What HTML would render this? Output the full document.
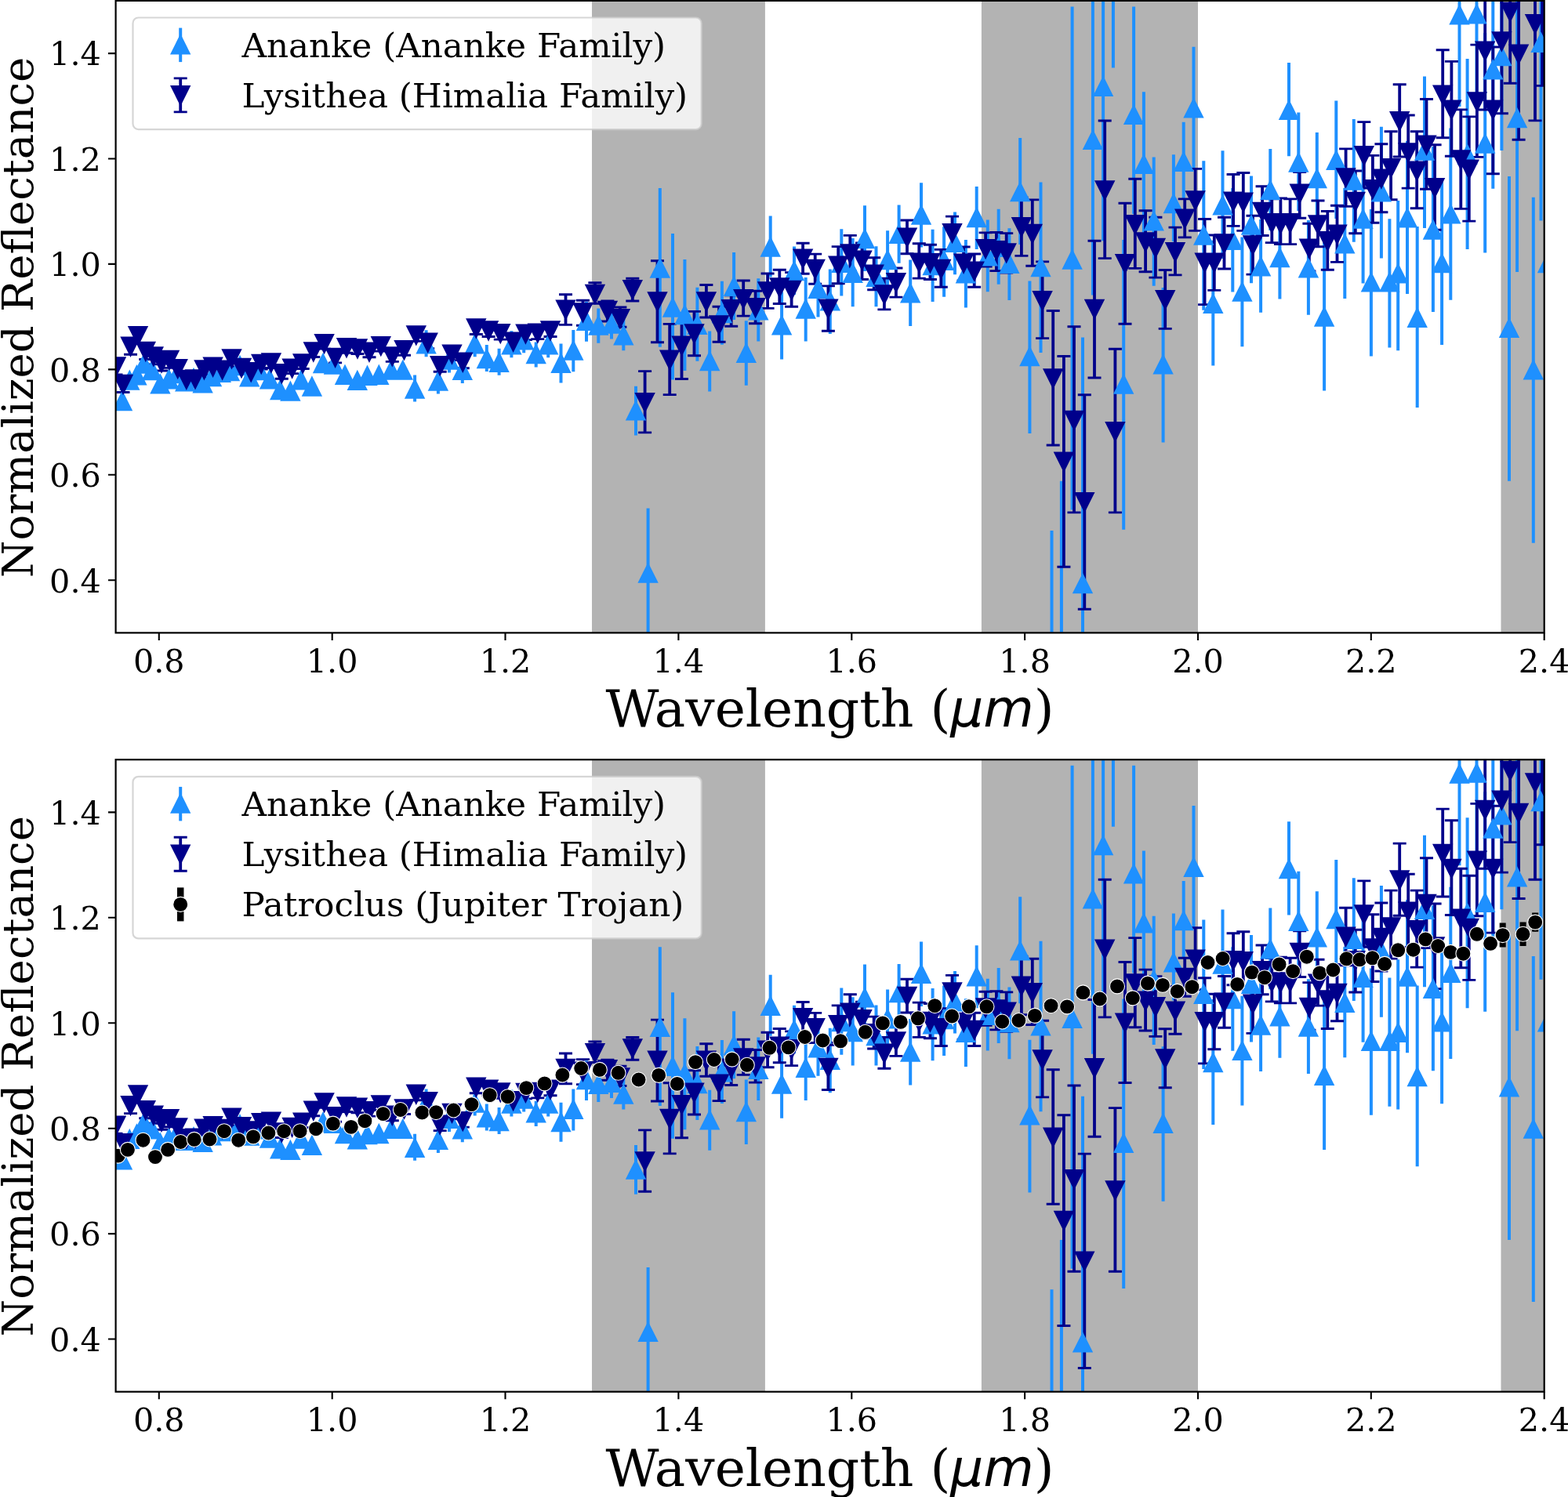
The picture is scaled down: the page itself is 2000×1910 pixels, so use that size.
<!DOCTYPE html>
<html><head><meta charset="utf-8"><title>Spectra</title>
<style>html,body{margin:0;padding:0;background:#fff;}body{width:2000px;height:1910px;overflow:hidden;}svg{display:block;}</style>
</head><body>
<svg width="2000" height="1910" viewBox="0 0 2000 1910" font-family="DejaVu Serif, Liberation Serif, serif" fill="#000">
<rect width="2000" height="1910" fill="#fff"/>
<clipPath id="c0"><rect x="147.6" y="0.9" width="1822.1" height="806.5"/></clipPath>
<rect x="755" y="0.9" width="220.9" height="806.5" fill="#b3b3b3"/>
<rect x="1251.9" y="0.9" width="276.1" height="806.5" fill="#b3b3b3"/>
<rect x="1914.5" y="0.9" width="55.2" height="806.5" fill="#b3b3b3"/>
<g clip-path="url(#c0)">
<path d="M156 503V519M165.3 476.6V492.6M174.4 470.2V486.2M183.6 455.5V471.5M194 464V480M204.4 481.4V497.4M215.4 475.3V491.3M226 468V484M236.2 478.4V494.4M247 474V490M258.6 480.4V496.4M270 472V488M281.8 466.7V482.7M293 465V481M306 458V474M318.2 472.3V488.3M331 464V480M344 475.3V491.3M357.2 489.1V505.1M370.4 490.6V506.6M384 476.3V492.3M397.9 484.5V500.5M412 455V471M425.9 456.5V472.5M440 469.7V485.7M455.8 476.9V492.9M468.5 470.7V486.7M483.3 469.7V485.7M499 463.6V479.6M513.8 463.6V479.6M529.1 478.5V512.5M543.6 421.3V455.3M558.9 468.6V502.6M573 441.6V475.6M589.8 454.9V488.9M605.7 421.3V455.3M620.8 440.1V474.1M636.6 444.7V478.7M652.4 422.3V456.3M668.2 416.2V450.2M683.7 436.5V468.6M699.2 422.3V456.3M715.5 438.5V488.5M731.3 421.1V474.2M748 385V435.8M763.3 393.6V437.7M780 392V432.6M795.3 407V447.3M811 492.7V555.4M826.6 648.6V812M841.8 240V442.8M858 298V484.4M873.4 330.9V472.9M889.4 366.7V460.8M905.2 422.5V499.4M920.9 358.7V439.8M936.1 322V408M951.8 409.3V491.8M967.3 355.2V435.6M982.7 275.5V353.5M997.1 372.6V458.5M1013 314.4V376M1027.7 353.9V435.6M1043.5 331V404.4M1058.8 343.5V425.9M1073.3 292.2V377.4M1087.7 304V391.2M1103 262.3V346M1117.5 314.2V391.2M1132.1 294.2V368M1146.6 261.6V335.7M1161.2 331.6V416.1M1175 233.2V315.6M1189.6 292.8V384.9M1204.1 289.3V378.7M1218 270.6V350.3M1231.9 305.9V392.6M1245.7 238V318M1259.8 280.5V372.3M1273.7 266.7V362.7M1287.4 291.2V382.9M1301.2 176V312M1313.4 358.4V553.1M1327.5 232.5V449.9M1341.5 676.9V1123M1353.9 613.8V1086M1367.6 8.5V650.5M1381 430.4V1058M1393.9 -20V376.5M1407.1 -90V307.2M1419.9 -206V86.4M1433.2 306.1V675.7M1446.1 8.5V273.1M1458.9 117.3V296.5M1471.7 200.5V364.8M1483.6 367V564.5M1496.9 197.3V308.3M1509.7 155.7V253.9M1522.5 59.7V215M1535.3 205.3V395.7M1547.3 306.7V466.6M1559.5 192.2V330M1572.3 240V372.4M1584.4 302.5V442.3M1596 224.6V361.3M1608.1 280V398.7M1620.3 190.1V294M1632.4 275V381.5M1644 80V199.2M1656.3 143.5V269M1668.9 281V401.8M1679.8 169V285M1689.1 308V498.6M1704.3 128.6V279M1715.3 240V381M1726.8 151.9V308.7M1738.6 196V361.4M1748.9 267.1V454.5M1761.9 161.7V329.5M1772.4 279.3V443.5M1783.2 256V447.2M1795 180V374.9M1807.7 289.1V520M1817 97.4V291M1827.9 187V397.9M1839.1 230V440M1850.3 163.4V382.8M1861.5 -100V136M1871.6 75V317.9M1883.5 -100V135M1894.2 42V322.4M1904.3 -65V240.7M1915.4 -50V192M1925 225V613.8M1935.1 -47V347M1955.8 251.8V692.8M1965.5 -170V281.5M1974 100V570" stroke="#1e90ff" stroke-width="4" fill="none"/>
<path d="M148 459V478M157 481.5V500.5M166.5 433.3V452.3M176 419.6V438.6M185.8 439.5V458.5M195.8 445.9V464.9M206 454V473M216 450.4V469.4M226.7 461.6V480.6M237.8 475.4V494.4M249 474.9V493.9M260.4 462.9V481.9M271.6 459.3V478.3M283.6 463.1V482.1M295.5 448.9V467.9M308 464V476M320.2 469.2V481.2M333.2 459V471M345.9 457.5V469.5M359.3 471.2V483.2M372.6 464.6V476.6M386.2 458.5V470.5M399.8 443.5V455.5M413.6 433.1V445.1M427.6 450.9V462.9M442 438.2V450.2M456 439.5V451.5M471 443.8V455.8M485.8 436.1V448.1M500.3 449.4V461.4M515.5 441.2V453.2M530.8 421.4V435.4M545.7 430.8V444.8M561.2 460.3V474.3M576.5 445.6V459.6M590.3 455.8V469.8M607.3 412.5V426.5M623.1 415.5V429.5M638.3 419.1V433.1M654.6 429.8V443.8M670.4 419.6V433.6M685.8 418.6V432.6M702 415.5V429.5M721.5 375.7V414.4M743.5 383.3V415.3M758.9 360.7V387.2M774.9 384V410M790.9 392V417.2M806.8 355.2V384M822.6 473.6V551.9M838.5 332.8V436.7M854.2 413.4V503.6M869.5 400V483.5M885.5 397.4V453.7M900.9 363.5V405M917.1 391.3V436.3M932.7 376.7V416.2M948.2 358V403.1M963.6 371.2V412.8M979.1 349V393.4M994.3 344.2V387.5M1009.6 347.6V391.3M1024.1 310.2V349.3M1039.7 324.1V362.2M1056.4 364.9V422.2M1069.2 314.6V361.8M1084.3 300.4V346M1099.5 310V356.5M1114.7 328.8V369.7M1127.9 355.1V394.9M1142.9 342V379.1M1157 281V323.7M1172.3 310.8V355.1M1186.4 312.2V356.5M1200.3 318.4V366.2M1214.5 276.1V320M1229.1 315V358M1242.7 324V366.2M1257.1 296.9V340M1270.9 296.5V345.6M1283.7 297.6V348M1302.9 252V326.4M1316.8 254.9V339.2M1329.6 333.9V431.6M1343.2 396.5V568M1356.9 454.5V723.2M1370 416.7V653.9M1383.3 503.8V777.2M1396 307.2V482M1409.2 154V329.6M1422.4 445.3V653.9M1435 259.2V413.2M1447.8 228.3V342.4M1461.1 268.8V346.7M1473.9 277.3V354.1M1486.2 344.5V419.4M1499 290.1V350.9M1511.2 253.9V302.9M1524.6 215.4V294.4M1536.6 279.5V388.6M1548.8 300V370.4M1561.5 277.2V343M1573.1 222.5V288.4M1585.8 220.5V294.4M1598 275.2V350.1M1610.1 237.7V300.5M1622.3 253.9V309.6M1633.4 252.9V311.6M1645.6 253.9V311.6M1657.7 219.5V278.2M1669.9 285.3V346M1681 256V314.8M1693.3 269.5V344.2M1705.5 262.2V334.4M1716.6 189.9V263.4M1728.8 218V297.7M1739.8 155.6V240M1750.9 198.4V284.2M1761.9 183.7V270.7M1774.1 167.8V254.8M1785.2 107.8V200M1796.2 147V240.1M1807.2 167.8V265.8M1819.5 126.5V241.3M1830.1 184.7V293.3M1840.2 63.8V175.7M1851.4 78.4V199.2M1863.3 139.9V266.4M1873.8 148.9V282.1M1883.9 57.1V200.4M1894.2 -10V140M1904.3 60V221.8M1915.4 -30V144.8M1926.2 -70V106.3M1937.1 -30V178.2M1958 -80V153.9M1967.1 -140V109.4" stroke="#00008b" stroke-width="3.8" fill="none"/>
<path d="M139.5 459H156.5M139.5 478H156.5M148.5 481.5H165.5M148.5 500.5H165.5M158 433.3H175M158 452.3H175M167.5 419.6H184.5M167.5 438.6H184.5M177.3 439.5H194.3M177.3 458.5H194.3M187.3 445.9H204.3M187.3 464.9H204.3M197.5 454H214.5M197.5 473H214.5M207.5 450.4H224.5M207.5 469.4H224.5M218.2 461.6H235.2M218.2 480.6H235.2M229.3 475.4H246.3M229.3 494.4H246.3M240.5 474.9H257.5M240.5 493.9H257.5M251.9 462.9H268.9M251.9 481.9H268.9M263.1 459.3H280.1M263.1 478.3H280.1M275.1 463.1H292.1M275.1 482.1H292.1M287 448.9H304M287 467.9H304M299.5 464H316.5M299.5 476H316.5M311.7 469.2H328.7M311.7 481.2H328.7M324.7 459H341.7M324.7 471H341.7M337.4 457.5H354.4M337.4 469.5H354.4M350.8 471.2H367.8M350.8 483.2H367.8M364.1 464.6H381.1M364.1 476.6H381.1M377.7 458.5H394.7M377.7 470.5H394.7M391.3 443.5H408.3M391.3 455.5H408.3M405.1 433.1H422.1M405.1 445.1H422.1M419.1 450.9H436.1M419.1 462.9H436.1M433.5 438.2H450.5M433.5 450.2H450.5M447.5 439.5H464.5M447.5 451.5H464.5M462.5 443.8H479.5M462.5 455.8H479.5M477.3 436.1H494.3M477.3 448.1H494.3M491.8 449.4H508.8M491.8 461.4H508.8M507 441.2H524M507 453.2H524M522.3 421.4H539.3M522.3 435.4H539.3M537.2 430.8H554.2M537.2 444.8H554.2M552.7 460.3H569.7M552.7 474.3H569.7M568 445.6H585M568 459.6H585M581.8 455.8H598.8M581.8 469.8H598.8M598.8 412.5H615.8M598.8 426.5H615.8M614.6 415.5H631.6M614.6 429.5H631.6M629.8 419.1H646.8M629.8 433.1H646.8M646.1 429.8H663.1M646.1 443.8H663.1M661.9 419.6H678.9M661.9 433.6H678.9M677.3 418.6H694.3M677.3 432.6H694.3M693.5 415.5H710.5M693.5 429.5H710.5M713 375.7H730M713 414.4H730M735 383.3H752M735 415.3H752M750.4 360.7H767.4M750.4 387.2H767.4M766.4 384H783.4M766.4 410H783.4M782.4 392H799.4M782.4 417.2H799.4M798.3 355.2H815.3M798.3 384H815.3M814.1 473.6H831.1M814.1 551.9H831.1M830 332.8H847M830 436.7H847M845.7 413.4H862.7M845.7 503.6H862.7M861 400H878M861 483.5H878M877 397.4H894M877 453.7H894M892.4 363.5H909.4M892.4 405H909.4M908.6 391.3H925.6M908.6 436.3H925.6M924.2 376.7H941.2M924.2 416.2H941.2M939.7 358H956.7M939.7 403.1H956.7M955.1 371.2H972.1M955.1 412.8H972.1M970.6 349H987.6M970.6 393.4H987.6M985.8 344.2H1002.8M985.8 387.5H1002.8M1001.1 347.6H1018.1M1001.1 391.3H1018.1M1015.6 310.2H1032.6M1015.6 349.3H1032.6M1031.2 324.1H1048.2M1031.2 362.2H1048.2M1047.9 364.9H1064.9M1047.9 422.2H1064.9M1060.7 314.6H1077.7M1060.7 361.8H1077.7M1075.8 300.4H1092.8M1075.8 346H1092.8M1091 310H1108M1091 356.5H1108M1106.2 328.8H1123.2M1106.2 369.7H1123.2M1119.4 355.1H1136.4M1119.4 394.9H1136.4M1134.4 342H1151.4M1134.4 379.1H1151.4M1148.5 281H1165.5M1148.5 323.7H1165.5M1163.8 310.8H1180.8M1163.8 355.1H1180.8M1177.9 312.2H1194.9M1177.9 356.5H1194.9M1191.8 318.4H1208.8M1191.8 366.2H1208.8M1206 276.1H1223M1206 320H1223M1220.6 315H1237.6M1220.6 358H1237.6M1234.2 324H1251.2M1234.2 366.2H1251.2M1248.6 296.9H1265.6M1248.6 340H1265.6M1262.4 296.5H1279.4M1262.4 345.6H1279.4M1275.2 297.6H1292.2M1275.2 348H1292.2M1294.4 252H1311.4M1294.4 326.4H1311.4M1308.3 254.9H1325.3M1308.3 339.2H1325.3M1321.1 333.9H1338.1M1321.1 431.6H1338.1M1334.7 396.5H1351.7M1334.7 568H1351.7M1348.4 454.5H1365.4M1348.4 723.2H1365.4M1361.5 416.7H1378.5M1361.5 653.9H1378.5M1374.8 503.8H1391.8M1374.8 777.2H1391.8M1387.5 307.2H1404.5M1387.5 482H1404.5M1400.7 154H1417.7M1400.7 329.6H1417.7M1413.9 445.3H1430.9M1413.9 653.9H1430.9M1426.5 259.2H1443.5M1426.5 413.2H1443.5M1439.3 228.3H1456.3M1439.3 342.4H1456.3M1452.6 268.8H1469.6M1452.6 346.7H1469.6M1465.4 277.3H1482.4M1465.4 354.1H1482.4M1477.7 344.5H1494.7M1477.7 419.4H1494.7M1490.5 290.1H1507.5M1490.5 350.9H1507.5M1502.7 253.9H1519.7M1502.7 302.9H1519.7M1516.1 215.4H1533.1M1516.1 294.4H1533.1M1528.1 279.5H1545.1M1528.1 388.6H1545.1M1540.3 300H1557.3M1540.3 370.4H1557.3M1553 277.2H1570M1553 343H1570M1564.6 222.5H1581.6M1564.6 288.4H1581.6M1577.3 220.5H1594.3M1577.3 294.4H1594.3M1589.5 275.2H1606.5M1589.5 350.1H1606.5M1601.6 237.7H1618.6M1601.6 300.5H1618.6M1613.8 253.9H1630.8M1613.8 309.6H1630.8M1624.9 252.9H1641.9M1624.9 311.6H1641.9M1637.1 253.9H1654.1M1637.1 311.6H1654.1M1649.2 219.5H1666.2M1649.2 278.2H1666.2M1661.4 285.3H1678.4M1661.4 346H1678.4M1672.5 256H1689.5M1672.5 314.8H1689.5M1684.8 269.5H1701.8M1684.8 344.2H1701.8M1697 262.2H1714M1697 334.4H1714M1708.1 189.9H1725.1M1708.1 263.4H1725.1M1720.3 218H1737.3M1720.3 297.7H1737.3M1731.3 155.6H1748.3M1731.3 240H1748.3M1742.4 198.4H1759.4M1742.4 284.2H1759.4M1753.4 183.7H1770.4M1753.4 270.7H1770.4M1765.6 167.8H1782.6M1765.6 254.8H1782.6M1776.7 107.8H1793.7M1776.7 200H1793.7M1787.7 147H1804.7M1787.7 240.1H1804.7M1798.7 167.8H1815.7M1798.7 265.8H1815.7M1811 126.5H1828M1811 241.3H1828M1821.6 184.7H1838.6M1821.6 293.3H1838.6M1831.7 63.8H1848.7M1831.7 175.7H1848.7M1842.9 78.4H1859.9M1842.9 199.2H1859.9M1854.8 139.9H1871.8M1854.8 266.4H1871.8M1865.3 148.9H1882.3M1865.3 282.1H1882.3M1875.4 57.1H1892.4M1875.4 200.4H1892.4M1885.7 -10H1902.7M1885.7 140H1902.7M1895.8 60H1912.8M1895.8 221.8H1912.8M1906.9 -30H1923.9M1906.9 144.8H1923.9M1917.7 -70H1934.7M1917.7 106.3H1934.7M1928.6 -30H1945.6M1928.6 178.2H1945.6M1949.5 -80H1966.5M1949.5 153.9H1966.5M1958.6 -140H1975.6M1958.6 109.4H1975.6" stroke="#00008b" stroke-width="2.9" fill="none"/>
<path d="M156 497.8L169.2 524.2L142.8 524.2ZM165.3 471.4L178.5 497.8L152.1 497.8ZM174.4 465L187.6 491.4L161.2 491.4ZM183.6 450.3L196.8 476.7L170.4 476.7ZM194 458.8L207.2 485.2L180.8 485.2ZM204.4 476.2L217.6 502.6L191.2 502.6ZM215.4 470.1L228.6 496.5L202.2 496.5ZM226 462.8L239.2 489.2L212.8 489.2ZM236.2 473.2L249.4 499.6L223 499.6ZM247 468.8L260.2 495.2L233.8 495.2ZM258.6 475.2L271.8 501.6L245.4 501.6ZM270 466.8L283.2 493.2L256.8 493.2ZM281.8 461.5L295 487.9L268.6 487.9ZM293 459.8L306.2 486.2L279.8 486.2ZM306 452.8L319.2 479.2L292.8 479.2ZM318.2 467.1L331.4 493.5L305 493.5ZM331 458.8L344.2 485.2L317.8 485.2ZM344 470.1L357.2 496.5L330.8 496.5ZM357.2 483.9L370.4 510.3L344 510.3ZM370.4 485.4L383.6 511.8L357.2 511.8ZM384 471.1L397.2 497.5L370.8 497.5ZM397.9 479.3L411.1 505.7L384.7 505.7ZM412 449.8L425.2 476.2L398.8 476.2ZM425.9 451.3L439.1 477.7L412.7 477.7ZM440 464.5L453.2 490.9L426.8 490.9ZM455.8 471.7L469 498.1L442.6 498.1ZM468.5 465.5L481.7 491.9L455.3 491.9ZM483.3 464.5L496.5 490.9L470.1 490.9ZM499 458.4L512.2 484.8L485.8 484.8ZM513.8 458.4L527 484.8L500.6 484.8ZM529.1 482.3L542.3 508.7L515.9 508.7ZM543.6 425.1L556.8 451.5L530.4 451.5ZM558.9 472.4L572.1 498.8L545.7 498.8ZM573 445.4L586.2 471.8L559.8 471.8ZM589.8 458.7L603 485.1L576.6 485.1ZM605.7 425.1L618.9 451.5L592.5 451.5ZM620.8 443.9L634 470.3L607.6 470.3ZM636.6 448.5L649.8 474.9L623.4 474.9ZM652.4 426.1L665.6 452.5L639.2 452.5ZM668.2 420L681.4 446.4L655 446.4ZM683.7 437.8L696.9 464.2L670.5 464.2ZM699.2 426.1L712.4 452.5L686 452.5ZM715.5 449.5L728.7 475.9L702.3 475.9ZM731.3 433.3L744.5 459.7L718.1 459.7ZM748 395.5L761.2 421.9L734.8 421.9ZM763.3 401.3L776.5 427.7L750.1 427.7ZM780 399.4L793.2 425.8L766.8 425.8ZM795.3 414.1L808.5 440.5L782.1 440.5ZM811 510.1L824.2 536.5L797.8 536.5ZM826.6 717.4L839.8 743.8L813.4 743.8ZM841.8 328.3L855 354.7L828.6 354.7ZM858 378.3L871.2 404.7L844.8 404.7ZM873.4 387.8L886.6 414.2L860.2 414.2ZM889.4 400.5L902.6 426.9L876.2 426.9ZM905.2 446.8L918.4 473.2L892 473.2ZM920.9 385.8L934.1 412.2L907.7 412.2ZM936.1 351.6L949.3 378L922.9 378ZM951.8 436.5L965 462.9L938.6 462.9ZM967.3 382.2L980.5 408.6L954.1 408.6ZM982.7 301.3L995.9 327.7L969.5 327.7ZM997.1 401.1L1010.3 427.5L983.9 427.5ZM1013 331.8L1026.2 358.2L999.8 358.2ZM1027.7 380.3L1040.9 406.7L1014.5 406.7ZM1043.5 354.7L1056.7 381.1L1030.3 381.1ZM1058.8 370.2L1072 396.6L1045.6 396.6ZM1073.3 321.6L1086.5 348L1060.1 348ZM1087.7 334.5L1100.9 360.9L1074.5 360.9ZM1103 290.8L1116.2 317.2L1089.8 317.2ZM1117.5 339.5L1130.7 365.9L1104.3 365.9ZM1132.1 317.8L1145.3 344.2L1118.9 344.2ZM1146.6 284.6L1159.8 311L1133.4 311ZM1161.2 360.1L1174.4 386.5L1148 386.5ZM1175 260.3L1188.2 286.7L1161.8 286.7ZM1189.6 324.8L1202.8 351.2L1176.4 351.2ZM1204.1 318.5L1217.3 344.9L1190.9 344.9ZM1218 295.7L1231.2 322.1L1204.8 322.1ZM1231.9 335.2L1245.1 361.6L1218.7 361.6ZM1245.7 263.8L1258.9 290.2L1232.5 290.2ZM1259.8 313.2L1273 339.6L1246.6 339.6ZM1273.7 301.5L1286.9 327.9L1260.5 327.9ZM1287.4 322.6L1300.6 349L1274.2 349ZM1301.2 230.9L1314.4 257.3L1288 257.3ZM1313.4 440.9L1326.6 467.3L1300.2 467.3ZM1327.5 326.9L1340.7 353.3L1314.3 353.3ZM1341.5 886.8L1354.7 913.2L1328.3 913.2ZM1353.9 836.8L1367.1 863.2L1340.7 863.2ZM1367.6 317.3L1380.8 343.7L1354.4 343.7ZM1381 730.9L1394.2 757.3L1367.8 757.3ZM1393.9 164.7L1407.1 191.1L1380.7 191.1ZM1407.1 96.5L1420.3 122.9L1393.9 122.9ZM1419.9 -73.2L1433.1 -46.8L1406.7 -46.8ZM1433.2 476.4L1446.4 502.8L1420 502.8ZM1446.1 132.7L1459.3 159.1L1432.9 159.1ZM1458.9 195.7L1472.1 222.1L1445.7 222.1ZM1471.7 268.2L1484.9 294.6L1458.5 294.6ZM1483.6 451.2L1496.8 477.6L1470.4 477.6ZM1496.9 245.8L1510.1 272.2L1483.7 272.2ZM1509.7 192.5L1522.9 218.9L1496.5 218.9ZM1522.5 124.2L1535.7 150.6L1509.3 150.6ZM1535.3 286.3L1548.5 312.7L1522.1 312.7ZM1547.3 373.5L1560.5 399.9L1534.1 399.9ZM1559.5 248L1572.7 274.4L1546.3 274.4ZM1572.3 292.5L1585.5 318.9L1559.1 318.9ZM1584.4 358.4L1597.6 384.8L1571.2 384.8ZM1596 273.3L1609.2 299.7L1582.8 299.7ZM1608.1 326L1621.3 352.4L1594.9 352.4ZM1620.3 228.7L1633.5 255.1L1607.1 255.1ZM1632.4 314.8L1645.6 341.2L1619.2 341.2ZM1644 126.5L1657.2 152.9L1630.8 152.9ZM1656.3 193.3L1669.5 219.7L1643.1 219.7ZM1668.9 328L1682.1 354.4L1655.7 354.4ZM1679.8 213.9L1693 240.3L1666.6 240.3ZM1689.1 390.3L1702.3 416.7L1675.9 416.7ZM1704.3 190.6L1717.5 217L1691.1 217ZM1715.3 297.2L1728.5 323.6L1702.1 323.6ZM1726.8 216.4L1740 242.8L1713.6 242.8ZM1738.6 265.4L1751.8 291.8L1725.4 291.8ZM1748.9 346.2L1762.1 372.6L1735.7 372.6ZM1761.9 231.1L1775.1 257.5L1748.7 257.5ZM1772.4 346.2L1785.6 372.6L1759.2 372.6ZM1783.2 335.2L1796.4 361.6L1770 361.6ZM1795 264.1L1808.2 290.5L1781.8 290.5ZM1807.7 391.6L1820.9 418L1794.5 418ZM1817 178.4L1830.2 204.8L1803.8 204.8ZM1827.9 279.4L1841.1 305.8L1814.7 305.8ZM1839.1 321.9L1852.3 348.3L1825.9 348.3ZM1850.3 259.2L1863.5 285.6L1837.1 285.6ZM1861.5 5.1L1874.7 31.5L1848.3 31.5ZM1871.6 183.3L1884.8 209.7L1858.4 209.7ZM1883.5 4L1896.7 30.4L1870.3 30.4ZM1894.2 169.3L1907.4 195.7L1881 195.7ZM1904.3 75.1L1917.5 101.5L1891.1 101.5ZM1915.4 57.9L1928.6 84.3L1902.2 84.3ZM1925 404.7L1938.2 431.1L1911.8 431.1ZM1935.1 136.9L1948.3 163.3L1921.9 163.3ZM1955.8 458.1L1969 484.5L1942.6 484.5ZM1965.5 40.6L1978.7 67L1952.3 67ZM1974 321.8L1987.2 348.2L1960.8 348.2Z" fill="#1e90ff"/>
<path d="M134.8 455.3L161.2 455.3L148 481.7ZM143.8 477.8L170.2 477.8L157 504.2ZM153.3 429.6L179.7 429.6L166.5 456ZM162.8 415.9L189.2 415.9L176 442.3ZM172.6 435.8L199 435.8L185.8 462.2ZM182.6 442.2L209 442.2L195.8 468.6ZM192.8 450.3L219.2 450.3L206 476.7ZM202.8 446.7L229.2 446.7L216 473.1ZM213.5 457.9L239.9 457.9L226.7 484.3ZM224.6 471.7L251 471.7L237.8 498.1ZM235.8 471.2L262.2 471.2L249 497.6ZM247.2 459.2L273.6 459.2L260.4 485.6ZM258.4 455.6L284.8 455.6L271.6 482ZM270.4 459.4L296.8 459.4L283.6 485.8ZM282.3 445.2L308.7 445.2L295.5 471.6ZM294.8 456.8L321.2 456.8L308 483.2ZM307 462L333.4 462L320.2 488.4ZM320 451.8L346.4 451.8L333.2 478.2ZM332.7 450.3L359.1 450.3L345.9 476.7ZM346.1 464L372.5 464L359.3 490.4ZM359.4 457.4L385.8 457.4L372.6 483.8ZM373 451.3L399.4 451.3L386.2 477.7ZM386.6 436.3L413 436.3L399.8 462.7ZM400.4 425.9L426.8 425.9L413.6 452.3ZM414.4 443.7L440.8 443.7L427.6 470.1ZM428.8 431L455.2 431L442 457.4ZM442.8 432.3L469.2 432.3L456 458.7ZM457.8 436.6L484.2 436.6L471 463ZM472.6 428.9L499 428.9L485.8 455.3ZM487.1 442.2L513.5 442.2L500.3 468.6ZM502.3 434L528.7 434L515.5 460.4ZM517.6 415.2L544 415.2L530.8 441.6ZM532.5 424.6L558.9 424.6L545.7 451ZM548 454.1L574.4 454.1L561.2 480.5ZM563.3 439.4L589.7 439.4L576.5 465.8ZM577.1 449.6L603.5 449.6L590.3 476ZM594.1 406.3L620.5 406.3L607.3 432.7ZM609.9 409.3L636.3 409.3L623.1 435.7ZM625.1 412.9L651.5 412.9L638.3 439.3ZM641.4 423.6L667.8 423.6L654.6 450ZM657.2 413.4L683.6 413.4L670.4 439.8ZM672.6 412.4L699 412.4L685.8 438.8ZM688.8 409.3L715.2 409.3L702 435.7ZM708.3 382.5L734.7 382.5L721.5 408.9ZM730.3 386.3L756.7 386.3L743.5 412.7ZM745.7 362.7L772.1 362.7L758.9 389.1ZM761.7 383.8L788.1 383.8L774.9 410.2ZM777.7 394L804.1 394L790.9 420.4ZM793.6 356.9L820 356.9L806.8 383.3ZM809.4 500.9L835.8 500.9L822.6 527.3ZM825.3 372.3L851.7 372.3L838.5 398.7ZM841 446.5L867.4 446.5L854.2 472.9ZM856.3 428.6L882.7 428.6L869.5 455ZM872.3 413.2L898.7 413.2L885.5 439.6ZM887.7 372.3L914.1 372.3L900.9 398.7ZM903.9 402.2L930.3 402.2L917.1 428.6ZM919.5 382.1L945.9 382.1L932.7 408.5ZM935 368.9L961.4 368.9L948.2 395.3ZM950.4 380L976.8 380L963.6 406.4ZM965.9 359.2L992.3 359.2L979.1 385.6ZM981.1 354.3L1007.5 354.3L994.3 380.7ZM996.4 357.8L1022.8 357.8L1009.6 384.2ZM1010.9 317.6L1037.3 317.6L1024.1 344ZM1026.5 330.8L1052.9 330.8L1039.7 357.2ZM1043.2 381.4L1069.6 381.4L1056.4 407.8ZM1056 326.6L1082.4 326.6L1069.2 353ZM1071.1 311.3L1097.5 311.3L1084.3 337.7ZM1086.3 319.6L1112.7 319.6L1099.5 346ZM1101.5 337.6L1127.9 337.6L1114.7 364ZM1114.7 363.3L1141.1 363.3L1127.9 389.7ZM1129.7 348L1156.1 348L1142.9 374.4ZM1143.8 290.5L1170.2 290.5L1157 316.9ZM1159.1 322.4L1185.5 322.4L1172.3 348.8ZM1173.2 323.1L1199.6 323.1L1186.4 349.5ZM1187.1 330.7L1213.5 330.7L1200.3 357.1ZM1201.3 284.9L1227.7 284.9L1214.5 311.3ZM1215.9 323.5L1242.3 323.5L1229.1 349.9ZM1229.5 333.4L1255.9 333.4L1242.7 359.8ZM1243.9 304.9L1270.3 304.9L1257.1 331.3ZM1257.7 307L1284.1 307L1270.9 333.4ZM1270.5 310.2L1296.9 310.2L1283.7 336.6ZM1289.7 277.1L1316.1 277.1L1302.9 303.5ZM1303.6 285.7L1330 285.7L1316.8 312.1ZM1316.4 371L1342.8 371L1329.6 397.4ZM1330 470.3L1356.4 470.3L1343.2 496.7ZM1343.7 576.5L1370.1 576.5L1356.9 602.9ZM1356.8 523.8L1383.2 523.8L1370 550.2ZM1370.1 628.1L1396.5 628.1L1383.3 654.5ZM1382.8 381.7L1409.2 381.7L1396 408.1ZM1396 230.2L1422.4 230.2L1409.2 256.6ZM1409.2 538L1435.6 538L1422.4 564.4ZM1421.8 324.1L1448.2 324.1L1435 350.5ZM1434.6 273.9L1461 273.9L1447.8 300.3ZM1447.9 296.3L1474.3 296.3L1461.1 322.7ZM1460.7 303.8L1487.1 303.8L1473.9 330.2ZM1473 369.9L1499.4 369.9L1486.2 396.3ZM1485.8 309.1L1512.2 309.1L1499 335.5ZM1498 266.5L1524.4 266.5L1511.2 292.9ZM1511.4 243.3L1537.8 243.3L1524.6 269.7ZM1523.4 322.6L1549.8 322.6L1536.6 349ZM1535.6 322.6L1562 322.6L1548.8 349ZM1548.3 298.3L1574.7 298.3L1561.5 324.7ZM1559.9 244.6L1586.3 244.6L1573.1 271ZM1572.6 245.6L1599 245.6L1585.8 272ZM1584.8 300.3L1611.2 300.3L1598 326.7ZM1596.9 257.8L1623.3 257.8L1610.1 284.2ZM1609.1 272L1635.5 272L1622.3 298.4ZM1620.2 273L1646.6 273L1633.4 299.4ZM1632.4 272L1658.8 272L1645.6 298.4ZM1644.5 234.5L1670.9 234.5L1657.7 260.9ZM1656.7 304.4L1683.1 304.4L1669.9 330.8ZM1667.8 274.2L1694.2 274.2L1681 300.6ZM1680.1 295L1706.5 295L1693.3 321.4ZM1692.3 286.5L1718.7 286.5L1705.5 312.9ZM1703.4 214.2L1729.8 214.2L1716.6 240.6ZM1715.6 244.8L1742 244.8L1728.8 271.2ZM1726.6 186L1753 186L1739.8 212.4ZM1737.7 228.9L1764.1 228.9L1750.9 255.3ZM1748.7 215.4L1775.1 215.4L1761.9 241.8ZM1760.9 201.9L1787.3 201.9L1774.1 228.3ZM1772 141.9L1798.4 141.9L1785.2 168.3ZM1783 182.3L1809.4 182.3L1796.2 208.7ZM1794 205.6L1820.4 205.6L1807.2 232ZM1806.3 172.5L1832.7 172.5L1819.5 198.9ZM1816.9 227L1843.3 227L1830.1 253.4ZM1827 108.4L1853.4 108.4L1840.2 134.8ZM1838.2 127.4L1864.6 127.4L1851.4 153.8ZM1850.1 191.2L1876.5 191.2L1863.3 217.6ZM1860.6 203.5L1887 203.5L1873.8 229.9ZM1870.7 117.3L1897.1 117.3L1883.9 143.7ZM1881 52.5L1907.4 52.5L1894.2 78.9ZM1891.1 127.4L1917.5 127.4L1904.3 153.8ZM1902.2 40.3L1928.6 40.3L1915.4 66.7ZM1913 2.8L1939.4 2.8L1926.2 29.2ZM1923.9 56.5L1950.3 56.5L1937.1 82.9ZM1944.8 18L1971.2 18L1958 44.4ZM1953.9 -28.2L1980.3 -28.2L1967.1 -1.8Z" fill="#00008b"/>
</g>
<rect x="147.6" y="0.9" width="1822.1" height="806.5" fill="none" stroke="#000" stroke-width="2.2"/>
<path d="M202.8 807.4V817M423.7 807.4V817M644.5 807.4V817M865.4 807.4V817M1086.3 807.4V817M1307.1 807.4V817M1528 807.4V817M1748.8 807.4V817M1969.7 807.4V817M147.6 740.2H138M147.6 605.8H138M147.6 471.4H138M147.6 336.9H138M147.6 202.5H138M147.6 68.1H138" stroke="#000" stroke-width="2.1" fill="none"/>
<g font-size="41.3"><text x="202.8" y="858" text-anchor="middle">0.8</text><text x="423.7" y="858" text-anchor="middle">1.0</text><text x="644.5" y="858" text-anchor="middle">1.2</text><text x="865.4" y="858" text-anchor="middle">1.4</text><text x="1086.3" y="858" text-anchor="middle">1.6</text><text x="1307.1" y="858" text-anchor="middle">1.8</text><text x="1528" y="858" text-anchor="middle">2.0</text><text x="1748.8" y="858" text-anchor="middle">2.2</text><text x="1969.7" y="858" text-anchor="middle">2.4</text><text x="128.8" y="755.5" text-anchor="end">0.4</text><text x="128.8" y="621.1" text-anchor="end">0.6</text><text x="128.8" y="486.7" text-anchor="end">0.8</text><text x="128.8" y="352.2" text-anchor="end">1.0</text><text x="128.8" y="217.8" text-anchor="end">1.2</text><text x="128.8" y="83.4" text-anchor="end">1.4</text></g>
<text x="772.5" y="927.2" font-size="66.2">Wavelength (<tspan font-family="DejaVu Sans" font-style="oblique">μm</tspan>)</text>
<text transform="translate(41.8 405) rotate(-90)" text-anchor="middle" font-size="54.6">Normalized Reflectance</text>
<rect x="169.5" y="22.5" width="725.2" height="142.6" rx="7" fill="#fff" fill-opacity="0.8" stroke="#ccc" stroke-opacity="0.8" stroke-width="2.2"/>
<path d="M230.2 35.6V79.1" stroke="#1e90ff" stroke-width="4"/>
<path d="M230.2 43L243.4 69.4L217 69.4Z" fill="#1e90ff"/>
<path d="M230.2 99.9V142.9" stroke="#00008b" stroke-width="3.8"/>
<path d="M221.7 99.9H238.7M221.7 142.9H238.7" stroke="#00008b" stroke-width="2.9"/>
<path d="M217 109.1L243.4 109.1L230.2 135.5Z" fill="#00008b"/>
<text x="308.5" y="73.1" font-size="43.6">Ananke (Ananke Family)</text>
<text x="308.5" y="137.1" font-size="43.6">Lysithea (Himalia Family)</text>
<clipPath id="c1"><rect x="147.6" y="969.2" width="1822.1" height="806.5"/></clipPath>
<rect x="755" y="969.2" width="220.9" height="806.5" fill="#b3b3b3"/>
<rect x="1251.9" y="969.2" width="276.1" height="806.5" fill="#b3b3b3"/>
<rect x="1914.5" y="969.2" width="55.2" height="806.5" fill="#b3b3b3"/>
<g clip-path="url(#c1)">
<path d="M156 1471.3V1487.3M165.3 1444.9V1460.9M174.4 1438.5V1454.5M183.6 1423.8V1439.8M194 1432.3V1448.3M204.4 1449.7V1465.7M215.4 1443.6V1459.6M226 1436.3V1452.3M236.2 1446.7V1462.7M247 1442.3V1458.3M258.6 1448.7V1464.7M270 1440.3V1456.3M281.8 1435V1451M293 1433.3V1449.3M306 1426.3V1442.3M318.2 1440.6V1456.6M331 1432.3V1448.3M344 1443.6V1459.6M357.2 1457.4V1473.4M370.4 1458.9V1474.9M384 1444.6V1460.6M397.9 1452.8V1468.8M412 1423.3V1439.3M425.9 1424.8V1440.8M440 1438V1454M455.8 1445.2V1461.2M468.5 1439V1455M483.3 1438V1454M499 1431.9V1447.9M513.8 1431.9V1447.9M529.1 1446.8V1480.8M543.6 1389.6V1423.6M558.9 1436.9V1470.9M573 1409.9V1443.9M589.8 1423.2V1457.2M605.7 1389.6V1423.6M620.8 1408.4V1442.4M636.6 1413V1447M652.4 1390.6V1424.6M668.2 1384.5V1418.5M683.7 1404.8V1436.9M699.2 1390.6V1424.6M715.5 1406.8V1456.8M731.3 1389.4V1442.5M748 1353.3V1404.1M763.3 1361.9V1406M780 1360.3V1400.9M795.3 1375.3V1415.6M811 1461V1523.7M826.6 1616.9V1780.3M841.8 1208.3V1411.1M858 1266.3V1452.7M873.4 1299.2V1441.2M889.4 1335V1429.1M905.2 1390.8V1467.7M920.9 1327V1408.1M936.1 1290.3V1376.3M951.8 1377.6V1460.1M967.3 1323.5V1403.9M982.7 1243.8V1321.8M997.1 1340.9V1426.8M1013 1282.7V1344.3M1027.7 1322.2V1403.9M1043.5 1299.3V1372.7M1058.8 1311.8V1394.2M1073.3 1260.5V1345.7M1087.7 1272.3V1359.5M1103 1230.6V1314.3M1117.5 1282.5V1359.5M1132.1 1262.5V1336.3M1146.6 1229.9V1304M1161.2 1299.9V1384.4M1175 1201.5V1283.9M1189.6 1261.1V1353.2M1204.1 1257.6V1347M1218 1238.9V1318.6M1231.9 1274.2V1360.9M1245.7 1206.3V1286.3M1259.8 1248.8V1340.6M1273.7 1235V1331M1287.4 1259.5V1351.2M1301.2 1144.3V1280.3M1313.4 1326.7V1521.4M1327.5 1200.8V1418.2M1341.5 1645.2V2091.3M1353.9 1582.1V2054.3M1367.6 976.8V1618.8M1381 1398.7V2026.3M1393.9 948.3V1344.8M1407.1 878.3V1275.5M1419.9 762.3V1054.7M1433.2 1274.4V1644M1446.1 976.8V1241.4M1458.9 1085.6V1264.8M1471.7 1168.8V1333.1M1483.6 1335.3V1532.8M1496.9 1165.6V1276.6M1509.7 1124V1222.2M1522.5 1028V1183.3M1535.3 1173.6V1364M1547.3 1275V1434.9M1559.5 1160.5V1298.3M1572.3 1208.3V1340.7M1584.4 1270.8V1410.6M1596 1192.9V1329.6M1608.1 1248.3V1367M1620.3 1158.4V1262.3M1632.4 1243.3V1349.8M1644 1048.3V1167.5M1656.3 1111.8V1237.3M1668.9 1249.3V1370.1M1679.8 1137.3V1253.3M1689.1 1276.3V1466.9M1704.3 1096.9V1247.3M1715.3 1208.3V1349.3M1726.8 1120.2V1277M1738.6 1164.3V1329.7M1748.9 1235.4V1422.8M1761.9 1130V1297.8M1772.4 1247.6V1411.8M1783.2 1224.3V1415.5M1795 1148.3V1343.2M1807.7 1257.4V1488.3M1817 1065.7V1259.3M1827.9 1155.3V1366.2M1839.1 1198.3V1408.3M1850.3 1131.7V1351.1M1861.5 868.3V1104.3M1871.6 1043.3V1286.2M1883.5 868.3V1103.3M1894.2 1010.3V1290.7M1904.3 903.3V1209M1915.4 918.3V1160.3M1925 1193.3V1582.1M1935.1 921.3V1315.3M1955.8 1220.1V1661.1M1965.5 798.3V1249.8M1974 1068.3V1538.3" stroke="#1e90ff" stroke-width="4" fill="none"/>
<path d="M148 1427.3V1446.3M157 1449.8V1468.8M166.5 1401.6V1420.6M176 1387.9V1406.9M185.8 1407.8V1426.8M195.8 1414.2V1433.2M206 1422.3V1441.3M216 1418.7V1437.7M226.7 1429.9V1448.9M237.8 1443.7V1462.7M249 1443.2V1462.2M260.4 1431.2V1450.2M271.6 1427.6V1446.6M283.6 1431.4V1450.4M295.5 1417.2V1436.2M308 1432.3V1444.3M320.2 1437.5V1449.5M333.2 1427.3V1439.3M345.9 1425.8V1437.8M359.3 1439.5V1451.5M372.6 1432.9V1444.9M386.2 1426.8V1438.8M399.8 1411.8V1423.8M413.6 1401.4V1413.4M427.6 1419.2V1431.2M442 1406.5V1418.5M456 1407.8V1419.8M471 1412.1V1424.1M485.8 1404.4V1416.4M500.3 1417.7V1429.7M515.5 1409.5V1421.5M530.8 1389.7V1403.7M545.7 1399.1V1413.1M561.2 1428.6V1442.6M576.5 1413.9V1427.9M590.3 1424.1V1438.1M607.3 1380.8V1394.8M623.1 1383.8V1397.8M638.3 1387.4V1401.4M654.6 1398.1V1412.1M670.4 1387.9V1401.9M685.8 1386.9V1400.9M702 1383.8V1397.8M721.5 1344V1382.7M743.5 1351.6V1383.6M758.9 1329V1355.5M774.9 1352.3V1378.3M790.9 1360.3V1385.5M806.8 1323.5V1352.3M822.6 1441.9V1520.2M838.5 1301.1V1405M854.2 1381.7V1471.9M869.5 1368.3V1451.8M885.5 1365.7V1422M900.9 1331.8V1373.3M917.1 1359.6V1404.6M932.7 1345V1384.5M948.2 1326.3V1371.4M963.6 1339.5V1381.1M979.1 1317.3V1361.7M994.3 1312.5V1355.8M1009.6 1315.9V1359.6M1024.1 1278.5V1317.6M1039.7 1292.4V1330.5M1056.4 1333.2V1390.5M1069.2 1282.9V1330.1M1084.3 1268.7V1314.3M1099.5 1278.3V1324.8M1114.7 1297.1V1338M1127.9 1323.4V1363.2M1142.9 1310.3V1347.4M1157 1249.3V1292M1172.3 1279.1V1323.4M1186.4 1280.5V1324.8M1200.3 1286.7V1334.5M1214.5 1244.4V1288.3M1229.1 1283.3V1326.3M1242.7 1292.3V1334.5M1257.1 1265.2V1308.3M1270.9 1264.8V1313.9M1283.7 1265.9V1316.3M1302.9 1220.3V1294.7M1316.8 1223.2V1307.5M1329.6 1302.2V1399.9M1343.2 1364.8V1536.3M1356.9 1422.8V1691.5M1370 1385V1622.2M1383.3 1472.1V1745.5M1396 1275.5V1450.3M1409.2 1122.3V1297.9M1422.4 1413.6V1622.2M1435 1227.5V1381.5M1447.8 1196.6V1310.7M1461.1 1237.1V1315M1473.9 1245.6V1322.4M1486.2 1312.8V1387.7M1499 1258.4V1319.2M1511.2 1222.2V1271.2M1524.6 1183.7V1262.7M1536.6 1247.8V1356.9M1548.8 1268.3V1338.7M1561.5 1245.5V1311.3M1573.1 1190.8V1256.7M1585.8 1188.8V1262.7M1598 1243.5V1318.4M1610.1 1206V1268.8M1622.3 1222.2V1277.9M1633.4 1221.2V1279.9M1645.6 1222.2V1279.9M1657.7 1187.8V1246.5M1669.9 1253.6V1314.3M1681 1224.3V1283.1M1693.3 1237.8V1312.5M1705.5 1230.5V1302.7M1716.6 1158.2V1231.7M1728.8 1186.3V1266M1739.8 1123.9V1208.3M1750.9 1166.7V1252.5M1761.9 1152V1239M1774.1 1136.1V1223.1M1785.2 1076.1V1168.3M1796.2 1115.3V1208.4M1807.2 1136.1V1234.1M1819.5 1094.8V1209.6M1830.1 1153V1261.6M1840.2 1032.1V1144M1851.4 1046.7V1167.5M1863.3 1108.2V1234.7M1873.8 1117.2V1250.4M1883.9 1025.4V1168.7M1894.2 958.3V1108.3M1904.3 1028.3V1190.1M1915.4 938.3V1113.1M1926.2 898.3V1074.6M1937.1 938.3V1146.5M1958 888.3V1122.2M1967.1 828.3V1077.7" stroke="#00008b" stroke-width="3.8" fill="none"/>
<path d="M139.5 1427.3H156.5M139.5 1446.3H156.5M148.5 1449.8H165.5M148.5 1468.8H165.5M158 1401.6H175M158 1420.6H175M167.5 1387.9H184.5M167.5 1406.9H184.5M177.3 1407.8H194.3M177.3 1426.8H194.3M187.3 1414.2H204.3M187.3 1433.2H204.3M197.5 1422.3H214.5M197.5 1441.3H214.5M207.5 1418.7H224.5M207.5 1437.7H224.5M218.2 1429.9H235.2M218.2 1448.9H235.2M229.3 1443.7H246.3M229.3 1462.7H246.3M240.5 1443.2H257.5M240.5 1462.2H257.5M251.9 1431.2H268.9M251.9 1450.2H268.9M263.1 1427.6H280.1M263.1 1446.6H280.1M275.1 1431.4H292.1M275.1 1450.4H292.1M287 1417.2H304M287 1436.2H304M299.5 1432.3H316.5M299.5 1444.3H316.5M311.7 1437.5H328.7M311.7 1449.5H328.7M324.7 1427.3H341.7M324.7 1439.3H341.7M337.4 1425.8H354.4M337.4 1437.8H354.4M350.8 1439.5H367.8M350.8 1451.5H367.8M364.1 1432.9H381.1M364.1 1444.9H381.1M377.7 1426.8H394.7M377.7 1438.8H394.7M391.3 1411.8H408.3M391.3 1423.8H408.3M405.1 1401.4H422.1M405.1 1413.4H422.1M419.1 1419.2H436.1M419.1 1431.2H436.1M433.5 1406.5H450.5M433.5 1418.5H450.5M447.5 1407.8H464.5M447.5 1419.8H464.5M462.5 1412.1H479.5M462.5 1424.1H479.5M477.3 1404.4H494.3M477.3 1416.4H494.3M491.8 1417.7H508.8M491.8 1429.7H508.8M507 1409.5H524M507 1421.5H524M522.3 1389.7H539.3M522.3 1403.7H539.3M537.2 1399.1H554.2M537.2 1413.1H554.2M552.7 1428.6H569.7M552.7 1442.6H569.7M568 1413.9H585M568 1427.9H585M581.8 1424.1H598.8M581.8 1438.1H598.8M598.8 1380.8H615.8M598.8 1394.8H615.8M614.6 1383.8H631.6M614.6 1397.8H631.6M629.8 1387.4H646.8M629.8 1401.4H646.8M646.1 1398.1H663.1M646.1 1412.1H663.1M661.9 1387.9H678.9M661.9 1401.9H678.9M677.3 1386.9H694.3M677.3 1400.9H694.3M693.5 1383.8H710.5M693.5 1397.8H710.5M713 1344H730M713 1382.7H730M735 1351.6H752M735 1383.6H752M750.4 1329H767.4M750.4 1355.5H767.4M766.4 1352.3H783.4M766.4 1378.3H783.4M782.4 1360.3H799.4M782.4 1385.5H799.4M798.3 1323.5H815.3M798.3 1352.3H815.3M814.1 1441.9H831.1M814.1 1520.2H831.1M830 1301.1H847M830 1405H847M845.7 1381.7H862.7M845.7 1471.9H862.7M861 1368.3H878M861 1451.8H878M877 1365.7H894M877 1422H894M892.4 1331.8H909.4M892.4 1373.3H909.4M908.6 1359.6H925.6M908.6 1404.6H925.6M924.2 1345H941.2M924.2 1384.5H941.2M939.7 1326.3H956.7M939.7 1371.4H956.7M955.1 1339.5H972.1M955.1 1381.1H972.1M970.6 1317.3H987.6M970.6 1361.7H987.6M985.8 1312.5H1002.8M985.8 1355.8H1002.8M1001.1 1315.9H1018.1M1001.1 1359.6H1018.1M1015.6 1278.5H1032.6M1015.6 1317.6H1032.6M1031.2 1292.4H1048.2M1031.2 1330.5H1048.2M1047.9 1333.2H1064.9M1047.9 1390.5H1064.9M1060.7 1282.9H1077.7M1060.7 1330.1H1077.7M1075.8 1268.7H1092.8M1075.8 1314.3H1092.8M1091 1278.3H1108M1091 1324.8H1108M1106.2 1297.1H1123.2M1106.2 1338H1123.2M1119.4 1323.4H1136.4M1119.4 1363.2H1136.4M1134.4 1310.3H1151.4M1134.4 1347.4H1151.4M1148.5 1249.3H1165.5M1148.5 1292H1165.5M1163.8 1279.1H1180.8M1163.8 1323.4H1180.8M1177.9 1280.5H1194.9M1177.9 1324.8H1194.9M1191.8 1286.7H1208.8M1191.8 1334.5H1208.8M1206 1244.4H1223M1206 1288.3H1223M1220.6 1283.3H1237.6M1220.6 1326.3H1237.6M1234.2 1292.3H1251.2M1234.2 1334.5H1251.2M1248.6 1265.2H1265.6M1248.6 1308.3H1265.6M1262.4 1264.8H1279.4M1262.4 1313.9H1279.4M1275.2 1265.9H1292.2M1275.2 1316.3H1292.2M1294.4 1220.3H1311.4M1294.4 1294.7H1311.4M1308.3 1223.2H1325.3M1308.3 1307.5H1325.3M1321.1 1302.2H1338.1M1321.1 1399.9H1338.1M1334.7 1364.8H1351.7M1334.7 1536.3H1351.7M1348.4 1422.8H1365.4M1348.4 1691.5H1365.4M1361.5 1385H1378.5M1361.5 1622.2H1378.5M1374.8 1472.1H1391.8M1374.8 1745.5H1391.8M1387.5 1275.5H1404.5M1387.5 1450.3H1404.5M1400.7 1122.3H1417.7M1400.7 1297.9H1417.7M1413.9 1413.6H1430.9M1413.9 1622.2H1430.9M1426.5 1227.5H1443.5M1426.5 1381.5H1443.5M1439.3 1196.6H1456.3M1439.3 1310.7H1456.3M1452.6 1237.1H1469.6M1452.6 1315H1469.6M1465.4 1245.6H1482.4M1465.4 1322.4H1482.4M1477.7 1312.8H1494.7M1477.7 1387.7H1494.7M1490.5 1258.4H1507.5M1490.5 1319.2H1507.5M1502.7 1222.2H1519.7M1502.7 1271.2H1519.7M1516.1 1183.7H1533.1M1516.1 1262.7H1533.1M1528.1 1247.8H1545.1M1528.1 1356.9H1545.1M1540.3 1268.3H1557.3M1540.3 1338.7H1557.3M1553 1245.5H1570M1553 1311.3H1570M1564.6 1190.8H1581.6M1564.6 1256.7H1581.6M1577.3 1188.8H1594.3M1577.3 1262.7H1594.3M1589.5 1243.5H1606.5M1589.5 1318.4H1606.5M1601.6 1206H1618.6M1601.6 1268.8H1618.6M1613.8 1222.2H1630.8M1613.8 1277.9H1630.8M1624.9 1221.2H1641.9M1624.9 1279.9H1641.9M1637.1 1222.2H1654.1M1637.1 1279.9H1654.1M1649.2 1187.8H1666.2M1649.2 1246.5H1666.2M1661.4 1253.6H1678.4M1661.4 1314.3H1678.4M1672.5 1224.3H1689.5M1672.5 1283.1H1689.5M1684.8 1237.8H1701.8M1684.8 1312.5H1701.8M1697 1230.5H1714M1697 1302.7H1714M1708.1 1158.2H1725.1M1708.1 1231.7H1725.1M1720.3 1186.3H1737.3M1720.3 1266H1737.3M1731.3 1123.9H1748.3M1731.3 1208.3H1748.3M1742.4 1166.7H1759.4M1742.4 1252.5H1759.4M1753.4 1152H1770.4M1753.4 1239H1770.4M1765.6 1136.1H1782.6M1765.6 1223.1H1782.6M1776.7 1076.1H1793.7M1776.7 1168.3H1793.7M1787.7 1115.3H1804.7M1787.7 1208.4H1804.7M1798.7 1136.1H1815.7M1798.7 1234.1H1815.7M1811 1094.8H1828M1811 1209.6H1828M1821.6 1153H1838.6M1821.6 1261.6H1838.6M1831.7 1032.1H1848.7M1831.7 1144H1848.7M1842.9 1046.7H1859.9M1842.9 1167.5H1859.9M1854.8 1108.2H1871.8M1854.8 1234.7H1871.8M1865.3 1117.2H1882.3M1865.3 1250.4H1882.3M1875.4 1025.4H1892.4M1875.4 1168.7H1892.4M1885.7 958.3H1902.7M1885.7 1108.3H1902.7M1895.8 1028.3H1912.8M1895.8 1190.1H1912.8M1906.9 938.3H1923.9M1906.9 1113.1H1923.9M1917.7 898.3H1934.7M1917.7 1074.6H1934.7M1928.6 938.3H1945.6M1928.6 1146.5H1945.6M1949.5 888.3H1966.5M1949.5 1122.2H1966.5M1958.6 828.3H1975.6M1958.6 1077.7H1975.6" stroke="#00008b" stroke-width="2.9" fill="none"/>
<path d="M150.7 1466.6V1482.6M162.9 1458.9V1474.9M182.5 1446.7V1462.7M198 1468.1V1484.1M214.1 1458.9V1474.9M230.4 1449V1465M247.7 1445.9V1461.9M267.5 1445.5V1461.5M285.9 1435.2V1451.2M304.2 1446.7V1462.7M323 1442.4V1458.4M342.4 1437.5V1453.5M362.2 1435.2V1451.2M382.6 1435.2V1451.2M403 1432.2V1448.2M424.8 1425.6V1441.6M447.8 1429.9V1445.9M465.4 1422.2V1438.2M488.7 1413.1V1429.1M510.9 1408V1424M538.4 1411.5V1427.5M556.2 1411.1V1427.1M578.5 1408.5V1424.5M601.5 1401.1V1417.1M624.7 1389.2V1405.2M647.6 1391.2V1407.2M671.3 1380.1V1396.1M694.6 1374.4V1390.4M717.4 1363.5V1379.5M741.2 1355V1371M764.9 1356.9V1372.9M788.6 1360.8V1376.8M814.6 1369.5V1385.5M840.2 1363.9V1379.9M863.7 1374.9V1390.9M887.1 1347.1V1363.1M910.8 1344V1360M933.7 1343.6V1359.6M952.8 1350.8V1366.8M981.5 1328.8V1344.8M1005.7 1328.4V1344.4M1026.6 1315V1331M1049.5 1319.5V1335.5M1072.1 1320.3V1336.3M1103.7 1308.8V1324.8M1125.9 1297.4V1313.4M1148.8 1295.9V1311.9M1170.9 1291.3V1307.3M1192.3 1275.2V1291.2M1214.2 1288.5V1304.5M1235.8 1276.3V1292.3M1258.5 1276.3V1292.3M1278.3 1295.5V1311.5M1299.4 1294V1310M1319.9 1287.9V1303.9M1340.6 1275.2V1291.2M1361.1 1276.4V1292.4M1381.4 1258.4V1274.4M1402.8 1266.5V1282.5M1425 1250.4V1266.4M1444.8 1265.4V1281.4M1463.9 1246.6V1262.6M1483 1248.9V1264.9M1501.6 1256.9V1272.9M1520.4 1251.2V1267.2M1540.5 1220V1236M1559.6 1215V1231M1578.2 1247.9V1263.9M1596.8 1232.6V1248.6M1613 1239.2V1255.2M1631.6 1222.4V1238.4M1649.2 1231.1V1247.1M1666.8 1212.7V1228.7M1683.3 1233.4V1249.4M1700.4 1229.5V1245.5M1717.5 1215.3V1231.3M1734.3 1216.3V1232.3M1750.5 1214.3V1230.3M1766.1 1221.9V1237.9M1783.2 1204.3V1220.3M1802.7 1203.7V1219.7M1818.3 1190.4V1206.4M1834.2 1199V1215M1850.3 1206.9V1222.9M1866.4 1208.7V1224.7M1883.8 1183.8V1199.8M1901.1 1195.8V1211.8M1916.7 1177.6V1208.6M1942.6 1176.6V1207M1958.2 1164.4V1188.8" stroke="#000" stroke-width="8" fill="none"/>
<path d="M156 1466.1L169.2 1492.5L142.8 1492.5ZM165.3 1439.7L178.5 1466.1L152.1 1466.1ZM174.4 1433.3L187.6 1459.7L161.2 1459.7ZM183.6 1418.6L196.8 1445L170.4 1445ZM194 1427.1L207.2 1453.5L180.8 1453.5ZM204.4 1444.5L217.6 1470.9L191.2 1470.9ZM215.4 1438.4L228.6 1464.8L202.2 1464.8ZM226 1431.1L239.2 1457.5L212.8 1457.5ZM236.2 1441.5L249.4 1467.9L223 1467.9ZM247 1437.1L260.2 1463.5L233.8 1463.5ZM258.6 1443.5L271.8 1469.9L245.4 1469.9ZM270 1435.1L283.2 1461.5L256.8 1461.5ZM281.8 1429.8L295 1456.2L268.6 1456.2ZM293 1428.1L306.2 1454.5L279.8 1454.5ZM306 1421.1L319.2 1447.5L292.8 1447.5ZM318.2 1435.4L331.4 1461.8L305 1461.8ZM331 1427.1L344.2 1453.5L317.8 1453.5ZM344 1438.4L357.2 1464.8L330.8 1464.8ZM357.2 1452.2L370.4 1478.6L344 1478.6ZM370.4 1453.7L383.6 1480.1L357.2 1480.1ZM384 1439.4L397.2 1465.8L370.8 1465.8ZM397.9 1447.6L411.1 1474L384.7 1474ZM412 1418.1L425.2 1444.5L398.8 1444.5ZM425.9 1419.6L439.1 1446L412.7 1446ZM440 1432.8L453.2 1459.2L426.8 1459.2ZM455.8 1440L469 1466.4L442.6 1466.4ZM468.5 1433.8L481.7 1460.2L455.3 1460.2ZM483.3 1432.8L496.5 1459.2L470.1 1459.2ZM499 1426.7L512.2 1453.1L485.8 1453.1ZM513.8 1426.7L527 1453.1L500.6 1453.1ZM529.1 1450.6L542.3 1477L515.9 1477ZM543.6 1393.4L556.8 1419.8L530.4 1419.8ZM558.9 1440.7L572.1 1467.1L545.7 1467.1ZM573 1413.7L586.2 1440.1L559.8 1440.1ZM589.8 1427L603 1453.4L576.6 1453.4ZM605.7 1393.4L618.9 1419.8L592.5 1419.8ZM620.8 1412.2L634 1438.6L607.6 1438.6ZM636.6 1416.8L649.8 1443.2L623.4 1443.2ZM652.4 1394.4L665.6 1420.8L639.2 1420.8ZM668.2 1388.3L681.4 1414.7L655 1414.7ZM683.7 1406.1L696.9 1432.5L670.5 1432.5ZM699.2 1394.4L712.4 1420.8L686 1420.8ZM715.5 1417.8L728.7 1444.2L702.3 1444.2ZM731.3 1401.6L744.5 1428L718.1 1428ZM748 1363.8L761.2 1390.2L734.8 1390.2ZM763.3 1369.6L776.5 1396L750.1 1396ZM780 1367.7L793.2 1394.1L766.8 1394.1ZM795.3 1382.4L808.5 1408.8L782.1 1408.8ZM811 1478.4L824.2 1504.8L797.8 1504.8ZM826.6 1685.7L839.8 1712.1L813.4 1712.1ZM841.8 1296.6L855 1323L828.6 1323ZM858 1346.6L871.2 1373L844.8 1373ZM873.4 1356.1L886.6 1382.5L860.2 1382.5ZM889.4 1368.8L902.6 1395.2L876.2 1395.2ZM905.2 1415.1L918.4 1441.5L892 1441.5ZM920.9 1354.1L934.1 1380.5L907.7 1380.5ZM936.1 1319.9L949.3 1346.3L922.9 1346.3ZM951.8 1404.8L965 1431.2L938.6 1431.2ZM967.3 1350.5L980.5 1376.9L954.1 1376.9ZM982.7 1269.6L995.9 1296L969.5 1296ZM997.1 1369.4L1010.3 1395.8L983.9 1395.8ZM1013 1300.1L1026.2 1326.5L999.8 1326.5ZM1027.7 1348.6L1040.9 1375L1014.5 1375ZM1043.5 1323L1056.7 1349.4L1030.3 1349.4ZM1058.8 1338.5L1072 1364.9L1045.6 1364.9ZM1073.3 1289.9L1086.5 1316.3L1060.1 1316.3ZM1087.7 1302.8L1100.9 1329.2L1074.5 1329.2ZM1103 1259.1L1116.2 1285.5L1089.8 1285.5ZM1117.5 1307.8L1130.7 1334.2L1104.3 1334.2ZM1132.1 1286.1L1145.3 1312.5L1118.9 1312.5ZM1146.6 1252.9L1159.8 1279.3L1133.4 1279.3ZM1161.2 1328.4L1174.4 1354.8L1148 1354.8ZM1175 1228.6L1188.2 1255L1161.8 1255ZM1189.6 1293.1L1202.8 1319.5L1176.4 1319.5ZM1204.1 1286.8L1217.3 1313.2L1190.9 1313.2ZM1218 1264L1231.2 1290.4L1204.8 1290.4ZM1231.9 1303.5L1245.1 1329.9L1218.7 1329.9ZM1245.7 1232.1L1258.9 1258.5L1232.5 1258.5ZM1259.8 1281.5L1273 1307.9L1246.6 1307.9ZM1273.7 1269.8L1286.9 1296.2L1260.5 1296.2ZM1287.4 1290.9L1300.6 1317.3L1274.2 1317.3ZM1301.2 1199.2L1314.4 1225.6L1288 1225.6ZM1313.4 1409.2L1326.6 1435.6L1300.2 1435.6ZM1327.5 1295.2L1340.7 1321.6L1314.3 1321.6ZM1341.5 1855.1L1354.7 1881.5L1328.3 1881.5ZM1353.9 1805.1L1367.1 1831.5L1340.7 1831.5ZM1367.6 1285.6L1380.8 1312L1354.4 1312ZM1381 1699.2L1394.2 1725.6L1367.8 1725.6ZM1393.9 1133L1407.1 1159.4L1380.7 1159.4ZM1407.1 1064.8L1420.3 1091.2L1393.9 1091.2ZM1419.9 895.1L1433.1 921.5L1406.7 921.5ZM1433.2 1444.7L1446.4 1471.1L1420 1471.1ZM1446.1 1101L1459.3 1127.4L1432.9 1127.4ZM1458.9 1164L1472.1 1190.4L1445.7 1190.4ZM1471.7 1236.5L1484.9 1262.9L1458.5 1262.9ZM1483.6 1419.5L1496.8 1445.9L1470.4 1445.9ZM1496.9 1214.1L1510.1 1240.5L1483.7 1240.5ZM1509.7 1160.8L1522.9 1187.2L1496.5 1187.2ZM1522.5 1092.5L1535.7 1118.9L1509.3 1118.9ZM1535.3 1254.6L1548.5 1281L1522.1 1281ZM1547.3 1341.8L1560.5 1368.2L1534.1 1368.2ZM1559.5 1216.3L1572.7 1242.7L1546.3 1242.7ZM1572.3 1260.8L1585.5 1287.2L1559.1 1287.2ZM1584.4 1326.7L1597.6 1353.1L1571.2 1353.1ZM1596 1241.6L1609.2 1268L1582.8 1268ZM1608.1 1294.3L1621.3 1320.7L1594.9 1320.7ZM1620.3 1197L1633.5 1223.4L1607.1 1223.4ZM1632.4 1283.1L1645.6 1309.5L1619.2 1309.5ZM1644 1094.8L1657.2 1121.2L1630.8 1121.2ZM1656.3 1161.6L1669.5 1188L1643.1 1188ZM1668.9 1296.3L1682.1 1322.7L1655.7 1322.7ZM1679.8 1182.2L1693 1208.6L1666.6 1208.6ZM1689.1 1358.6L1702.3 1385L1675.9 1385ZM1704.3 1158.9L1717.5 1185.3L1691.1 1185.3ZM1715.3 1265.5L1728.5 1291.9L1702.1 1291.9ZM1726.8 1184.7L1740 1211.1L1713.6 1211.1ZM1738.6 1233.7L1751.8 1260.1L1725.4 1260.1ZM1748.9 1314.5L1762.1 1340.9L1735.7 1340.9ZM1761.9 1199.4L1775.1 1225.8L1748.7 1225.8ZM1772.4 1314.5L1785.6 1340.9L1759.2 1340.9ZM1783.2 1303.5L1796.4 1329.9L1770 1329.9ZM1795 1232.4L1808.2 1258.8L1781.8 1258.8ZM1807.7 1359.9L1820.9 1386.3L1794.5 1386.3ZM1817 1146.7L1830.2 1173.1L1803.8 1173.1ZM1827.9 1247.7L1841.1 1274.1L1814.7 1274.1ZM1839.1 1290.2L1852.3 1316.6L1825.9 1316.6ZM1850.3 1227.5L1863.5 1253.9L1837.1 1253.9ZM1861.5 973.4L1874.7 999.8L1848.3 999.8ZM1871.6 1151.6L1884.8 1178L1858.4 1178ZM1883.5 972.3L1896.7 998.7L1870.3 998.7ZM1894.2 1137.6L1907.4 1164L1881 1164ZM1904.3 1043.4L1917.5 1069.8L1891.1 1069.8ZM1915.4 1026.2L1928.6 1052.6L1902.2 1052.6ZM1925 1373L1938.2 1399.4L1911.8 1399.4ZM1935.1 1105.2L1948.3 1131.6L1921.9 1131.6ZM1955.8 1426.4L1969 1452.8L1942.6 1452.8ZM1965.5 1008.9L1978.7 1035.3L1952.3 1035.3ZM1974 1290.1L1987.2 1316.5L1960.8 1316.5Z" fill="#1e90ff"/>
<path d="M134.8 1423.6L161.2 1423.6L148 1450ZM143.8 1446.1L170.2 1446.1L157 1472.5ZM153.3 1397.9L179.7 1397.9L166.5 1424.3ZM162.8 1384.2L189.2 1384.2L176 1410.6ZM172.6 1404.1L199 1404.1L185.8 1430.5ZM182.6 1410.5L209 1410.5L195.8 1436.9ZM192.8 1418.6L219.2 1418.6L206 1445ZM202.8 1415L229.2 1415L216 1441.4ZM213.5 1426.2L239.9 1426.2L226.7 1452.6ZM224.6 1440L251 1440L237.8 1466.4ZM235.8 1439.5L262.2 1439.5L249 1465.9ZM247.2 1427.5L273.6 1427.5L260.4 1453.9ZM258.4 1423.9L284.8 1423.9L271.6 1450.3ZM270.4 1427.7L296.8 1427.7L283.6 1454.1ZM282.3 1413.5L308.7 1413.5L295.5 1439.9ZM294.8 1425.1L321.2 1425.1L308 1451.5ZM307 1430.3L333.4 1430.3L320.2 1456.7ZM320 1420.1L346.4 1420.1L333.2 1446.5ZM332.7 1418.6L359.1 1418.6L345.9 1445ZM346.1 1432.3L372.5 1432.3L359.3 1458.7ZM359.4 1425.7L385.8 1425.7L372.6 1452.1ZM373 1419.6L399.4 1419.6L386.2 1446ZM386.6 1404.6L413 1404.6L399.8 1431ZM400.4 1394.2L426.8 1394.2L413.6 1420.6ZM414.4 1412L440.8 1412L427.6 1438.4ZM428.8 1399.3L455.2 1399.3L442 1425.7ZM442.8 1400.6L469.2 1400.6L456 1427ZM457.8 1404.9L484.2 1404.9L471 1431.3ZM472.6 1397.2L499 1397.2L485.8 1423.6ZM487.1 1410.5L513.5 1410.5L500.3 1436.9ZM502.3 1402.3L528.7 1402.3L515.5 1428.7ZM517.6 1383.5L544 1383.5L530.8 1409.9ZM532.5 1392.9L558.9 1392.9L545.7 1419.3ZM548 1422.4L574.4 1422.4L561.2 1448.8ZM563.3 1407.7L589.7 1407.7L576.5 1434.1ZM577.1 1417.9L603.5 1417.9L590.3 1444.3ZM594.1 1374.6L620.5 1374.6L607.3 1401ZM609.9 1377.6L636.3 1377.6L623.1 1404ZM625.1 1381.2L651.5 1381.2L638.3 1407.6ZM641.4 1391.9L667.8 1391.9L654.6 1418.3ZM657.2 1381.7L683.6 1381.7L670.4 1408.1ZM672.6 1380.7L699 1380.7L685.8 1407.1ZM688.8 1377.6L715.2 1377.6L702 1404ZM708.3 1350.8L734.7 1350.8L721.5 1377.2ZM730.3 1354.6L756.7 1354.6L743.5 1381ZM745.7 1331L772.1 1331L758.9 1357.4ZM761.7 1352.1L788.1 1352.1L774.9 1378.5ZM777.7 1362.3L804.1 1362.3L790.9 1388.7ZM793.6 1325.2L820 1325.2L806.8 1351.6ZM809.4 1469.2L835.8 1469.2L822.6 1495.6ZM825.3 1340.6L851.7 1340.6L838.5 1367ZM841 1414.8L867.4 1414.8L854.2 1441.2ZM856.3 1396.9L882.7 1396.9L869.5 1423.3ZM872.3 1381.5L898.7 1381.5L885.5 1407.9ZM887.7 1340.6L914.1 1340.6L900.9 1367ZM903.9 1370.5L930.3 1370.5L917.1 1396.9ZM919.5 1350.4L945.9 1350.4L932.7 1376.8ZM935 1337.2L961.4 1337.2L948.2 1363.6ZM950.4 1348.3L976.8 1348.3L963.6 1374.7ZM965.9 1327.5L992.3 1327.5L979.1 1353.9ZM981.1 1322.6L1007.5 1322.6L994.3 1349ZM996.4 1326.1L1022.8 1326.1L1009.6 1352.5ZM1010.9 1285.9L1037.3 1285.9L1024.1 1312.3ZM1026.5 1299.1L1052.9 1299.1L1039.7 1325.5ZM1043.2 1349.7L1069.6 1349.7L1056.4 1376.1ZM1056 1294.9L1082.4 1294.9L1069.2 1321.3ZM1071.1 1279.6L1097.5 1279.6L1084.3 1306ZM1086.3 1287.9L1112.7 1287.9L1099.5 1314.3ZM1101.5 1305.9L1127.9 1305.9L1114.7 1332.3ZM1114.7 1331.6L1141.1 1331.6L1127.9 1358ZM1129.7 1316.3L1156.1 1316.3L1142.9 1342.7ZM1143.8 1258.8L1170.2 1258.8L1157 1285.2ZM1159.1 1290.7L1185.5 1290.7L1172.3 1317.1ZM1173.2 1291.4L1199.6 1291.4L1186.4 1317.8ZM1187.1 1299L1213.5 1299L1200.3 1325.4ZM1201.3 1253.2L1227.7 1253.2L1214.5 1279.6ZM1215.9 1291.8L1242.3 1291.8L1229.1 1318.2ZM1229.5 1301.7L1255.9 1301.7L1242.7 1328.1ZM1243.9 1273.2L1270.3 1273.2L1257.1 1299.6ZM1257.7 1275.3L1284.1 1275.3L1270.9 1301.7ZM1270.5 1278.5L1296.9 1278.5L1283.7 1304.9ZM1289.7 1245.4L1316.1 1245.4L1302.9 1271.8ZM1303.6 1254L1330 1254L1316.8 1280.4ZM1316.4 1339.3L1342.8 1339.3L1329.6 1365.7ZM1330 1438.6L1356.4 1438.6L1343.2 1465ZM1343.7 1544.8L1370.1 1544.8L1356.9 1571.2ZM1356.8 1492.1L1383.2 1492.1L1370 1518.5ZM1370.1 1596.4L1396.5 1596.4L1383.3 1622.8ZM1382.8 1350L1409.2 1350L1396 1376.4ZM1396 1198.5L1422.4 1198.5L1409.2 1224.9ZM1409.2 1506.3L1435.6 1506.3L1422.4 1532.7ZM1421.8 1292.4L1448.2 1292.4L1435 1318.8ZM1434.6 1242.2L1461 1242.2L1447.8 1268.6ZM1447.9 1264.6L1474.3 1264.6L1461.1 1291ZM1460.7 1272.1L1487.1 1272.1L1473.9 1298.5ZM1473 1338.2L1499.4 1338.2L1486.2 1364.6ZM1485.8 1277.4L1512.2 1277.4L1499 1303.8ZM1498 1234.8L1524.4 1234.8L1511.2 1261.2ZM1511.4 1211.6L1537.8 1211.6L1524.6 1238ZM1523.4 1290.9L1549.8 1290.9L1536.6 1317.3ZM1535.6 1290.9L1562 1290.9L1548.8 1317.3ZM1548.3 1266.6L1574.7 1266.6L1561.5 1293ZM1559.9 1212.9L1586.3 1212.9L1573.1 1239.3ZM1572.6 1213.9L1599 1213.9L1585.8 1240.3ZM1584.8 1268.6L1611.2 1268.6L1598 1295ZM1596.9 1226.1L1623.3 1226.1L1610.1 1252.5ZM1609.1 1240.3L1635.5 1240.3L1622.3 1266.7ZM1620.2 1241.3L1646.6 1241.3L1633.4 1267.7ZM1632.4 1240.3L1658.8 1240.3L1645.6 1266.7ZM1644.5 1202.8L1670.9 1202.8L1657.7 1229.2ZM1656.7 1272.7L1683.1 1272.7L1669.9 1299.1ZM1667.8 1242.5L1694.2 1242.5L1681 1268.9ZM1680.1 1263.3L1706.5 1263.3L1693.3 1289.7ZM1692.3 1254.8L1718.7 1254.8L1705.5 1281.2ZM1703.4 1182.5L1729.8 1182.5L1716.6 1208.9ZM1715.6 1213.1L1742 1213.1L1728.8 1239.5ZM1726.6 1154.3L1753 1154.3L1739.8 1180.7ZM1737.7 1197.2L1764.1 1197.2L1750.9 1223.6ZM1748.7 1183.7L1775.1 1183.7L1761.9 1210.1ZM1760.9 1170.2L1787.3 1170.2L1774.1 1196.6ZM1772 1110.2L1798.4 1110.2L1785.2 1136.6ZM1783 1150.6L1809.4 1150.6L1796.2 1177ZM1794 1173.9L1820.4 1173.9L1807.2 1200.3ZM1806.3 1140.8L1832.7 1140.8L1819.5 1167.2ZM1816.9 1195.3L1843.3 1195.3L1830.1 1221.7ZM1827 1076.7L1853.4 1076.7L1840.2 1103.1ZM1838.2 1095.7L1864.6 1095.7L1851.4 1122.1ZM1850.1 1159.5L1876.5 1159.5L1863.3 1185.9ZM1860.6 1171.8L1887 1171.8L1873.8 1198.2ZM1870.7 1085.6L1897.1 1085.6L1883.9 1112ZM1881 1020.8L1907.4 1020.8L1894.2 1047.2ZM1891.1 1095.7L1917.5 1095.7L1904.3 1122.1ZM1902.2 1008.6L1928.6 1008.6L1915.4 1035ZM1913 971.1L1939.4 971.1L1926.2 997.5ZM1923.9 1024.8L1950.3 1024.8L1937.1 1051.2ZM1944.8 986.3L1971.2 986.3L1958 1012.7ZM1953.9 940.1L1980.3 940.1L1967.1 966.5Z" fill="#00008b"/>
<g fill="#000" stroke="#fff" stroke-width="1.1"><circle cx="150.7" cy="1474.6" r="9.5"/><circle cx="162.9" cy="1466.9" r="9.5"/><circle cx="182.5" cy="1454.7" r="9.5"/><circle cx="198" cy="1476.1" r="9.5"/><circle cx="214.1" cy="1466.9" r="9.5"/><circle cx="230.4" cy="1457" r="9.5"/><circle cx="247.7" cy="1453.9" r="9.5"/><circle cx="267.5" cy="1453.5" r="9.5"/><circle cx="285.9" cy="1443.2" r="9.5"/><circle cx="304.2" cy="1454.7" r="9.5"/><circle cx="323" cy="1450.4" r="9.5"/><circle cx="342.4" cy="1445.5" r="9.5"/><circle cx="362.2" cy="1443.2" r="9.5"/><circle cx="382.6" cy="1443.2" r="9.5"/><circle cx="403" cy="1440.2" r="9.5"/><circle cx="424.8" cy="1433.6" r="9.5"/><circle cx="447.8" cy="1437.9" r="9.5"/><circle cx="465.4" cy="1430.2" r="9.5"/><circle cx="488.7" cy="1421.1" r="9.5"/><circle cx="510.9" cy="1416" r="9.5"/><circle cx="538.4" cy="1419.5" r="9.5"/><circle cx="556.2" cy="1419.1" r="9.5"/><circle cx="578.5" cy="1416.5" r="9.5"/><circle cx="601.5" cy="1409.1" r="9.5"/><circle cx="624.7" cy="1397.2" r="9.5"/><circle cx="647.6" cy="1399.2" r="9.5"/><circle cx="671.3" cy="1388.1" r="9.5"/><circle cx="694.6" cy="1382.4" r="9.5"/><circle cx="717.4" cy="1371.5" r="9.5"/><circle cx="741.2" cy="1363" r="9.5"/><circle cx="764.9" cy="1364.9" r="9.5"/><circle cx="788.6" cy="1368.8" r="9.5"/><circle cx="814.6" cy="1377.5" r="9.5"/><circle cx="840.2" cy="1371.9" r="9.5"/><circle cx="863.7" cy="1382.9" r="9.5"/><circle cx="887.1" cy="1355.1" r="9.5"/><circle cx="910.8" cy="1352" r="9.5"/><circle cx="933.7" cy="1351.6" r="9.5"/><circle cx="952.8" cy="1358.8" r="9.5"/><circle cx="981.5" cy="1336.8" r="9.5"/><circle cx="1005.7" cy="1336.4" r="9.5"/><circle cx="1026.6" cy="1323" r="9.5"/><circle cx="1049.5" cy="1327.5" r="9.5"/><circle cx="1072.1" cy="1328.3" r="9.5"/><circle cx="1103.7" cy="1316.8" r="9.5"/><circle cx="1125.9" cy="1305.4" r="9.5"/><circle cx="1148.8" cy="1303.9" r="9.5"/><circle cx="1170.9" cy="1299.3" r="9.5"/><circle cx="1192.3" cy="1283.2" r="9.5"/><circle cx="1214.2" cy="1296.5" r="9.5"/><circle cx="1235.8" cy="1284.3" r="9.5"/><circle cx="1258.5" cy="1284.3" r="9.5"/><circle cx="1278.3" cy="1303.5" r="9.5"/><circle cx="1299.4" cy="1302" r="9.5"/><circle cx="1319.9" cy="1295.9" r="9.5"/><circle cx="1340.6" cy="1283.2" r="9.5"/><circle cx="1361.1" cy="1284.4" r="9.5"/><circle cx="1381.4" cy="1266.4" r="9.5"/><circle cx="1402.8" cy="1274.5" r="9.5"/><circle cx="1425" cy="1258.4" r="9.5"/><circle cx="1444.8" cy="1273.4" r="9.5"/><circle cx="1463.9" cy="1254.6" r="9.5"/><circle cx="1483" cy="1256.9" r="9.5"/><circle cx="1501.6" cy="1264.9" r="9.5"/><circle cx="1520.4" cy="1259.2" r="9.5"/><circle cx="1540.5" cy="1228" r="9.5"/><circle cx="1559.6" cy="1223" r="9.5"/><circle cx="1578.2" cy="1255.9" r="9.5"/><circle cx="1596.8" cy="1240.6" r="9.5"/><circle cx="1613" cy="1247.2" r="9.5"/><circle cx="1631.6" cy="1230.4" r="9.5"/><circle cx="1649.2" cy="1239.1" r="9.5"/><circle cx="1666.8" cy="1220.7" r="9.5"/><circle cx="1683.3" cy="1241.4" r="9.5"/><circle cx="1700.4" cy="1237.5" r="9.5"/><circle cx="1717.5" cy="1223.3" r="9.5"/><circle cx="1734.3" cy="1224.3" r="9.5"/><circle cx="1750.5" cy="1222.3" r="9.5"/><circle cx="1766.1" cy="1229.9" r="9.5"/><circle cx="1783.2" cy="1212.3" r="9.5"/><circle cx="1802.7" cy="1211.7" r="9.5"/><circle cx="1818.3" cy="1198.4" r="9.5"/><circle cx="1834.2" cy="1207" r="9.5"/><circle cx="1850.3" cy="1214.9" r="9.5"/><circle cx="1866.4" cy="1216.7" r="9.5"/><circle cx="1883.8" cy="1191.8" r="9.5"/><circle cx="1901.1" cy="1203.8" r="9.5"/><circle cx="1916.7" cy="1193.1" r="9.5"/><circle cx="1942.6" cy="1191.8" r="9.5"/><circle cx="1958.2" cy="1176.6" r="9.5"/></g>
</g>
<rect x="147.6" y="969.2" width="1822.1" height="806.5" fill="none" stroke="#000" stroke-width="2.2"/>
<path d="M202.8 1775.7V1785.3M423.7 1775.7V1785.3M644.5 1775.7V1785.3M865.4 1775.7V1785.3M1086.3 1775.7V1785.3M1307.1 1775.7V1785.3M1528 1775.7V1785.3M1748.8 1775.7V1785.3M1969.7 1775.7V1785.3M147.6 1708.5H138M147.6 1574.1H138M147.6 1439.7H138M147.6 1305.2H138M147.6 1170.8H138M147.6 1036.4H138" stroke="#000" stroke-width="2.1" fill="none"/>
<g font-size="41.3"><text x="202.8" y="1826.3" text-anchor="middle">0.8</text><text x="423.7" y="1826.3" text-anchor="middle">1.0</text><text x="644.5" y="1826.3" text-anchor="middle">1.2</text><text x="865.4" y="1826.3" text-anchor="middle">1.4</text><text x="1086.3" y="1826.3" text-anchor="middle">1.6</text><text x="1307.1" y="1826.3" text-anchor="middle">1.8</text><text x="1528" y="1826.3" text-anchor="middle">2.0</text><text x="1748.8" y="1826.3" text-anchor="middle">2.2</text><text x="1969.7" y="1826.3" text-anchor="middle">2.4</text><text x="128.8" y="1723.8" text-anchor="end">0.4</text><text x="128.8" y="1589.4" text-anchor="end">0.6</text><text x="128.8" y="1455" text-anchor="end">0.8</text><text x="128.8" y="1320.5" text-anchor="end">1.0</text><text x="128.8" y="1186.1" text-anchor="end">1.2</text><text x="128.8" y="1051.7" text-anchor="end">1.4</text></g>
<text x="772.5" y="1895.5" font-size="66.2">Wavelength (<tspan font-family="DejaVu Sans" font-style="oblique">μm</tspan>)</text>
<text transform="translate(41.8 1373.3) rotate(-90)" text-anchor="middle" font-size="54.6">Normalized Reflectance</text>
<rect x="169.5" y="990.8" width="725.2" height="206.6" rx="7" fill="#fff" fill-opacity="0.8" stroke="#ccc" stroke-opacity="0.8" stroke-width="2.2"/>
<path d="M230.2 1003.9V1047.4" stroke="#1e90ff" stroke-width="4"/>
<path d="M230.2 1011.3L243.4 1037.7L217 1037.7Z" fill="#1e90ff"/>
<path d="M230.2 1068.2V1111.2" stroke="#00008b" stroke-width="3.8"/>
<path d="M221.7 1068.2H238.7M221.7 1111.2H238.7" stroke="#00008b" stroke-width="2.9"/>
<path d="M217 1077.4L243.4 1077.4L230.2 1103.8Z" fill="#00008b"/>
<path d="M230.2 1132.4V1175.4" stroke="#000" stroke-width="8.5"/>
<circle cx="230.2" cy="1153.9" r="9.5" fill="#000" stroke="#fff" stroke-width="1.1"/>
<text x="308.5" y="1041.4" font-size="43.6">Ananke (Ananke Family)</text>
<text x="308.5" y="1105.4" font-size="43.6">Lysithea (Himalia Family)</text>
<text x="308.5" y="1169.4" font-size="43.6">Patroclus (Jupiter Trojan)</text>
</svg>
</body></html>
